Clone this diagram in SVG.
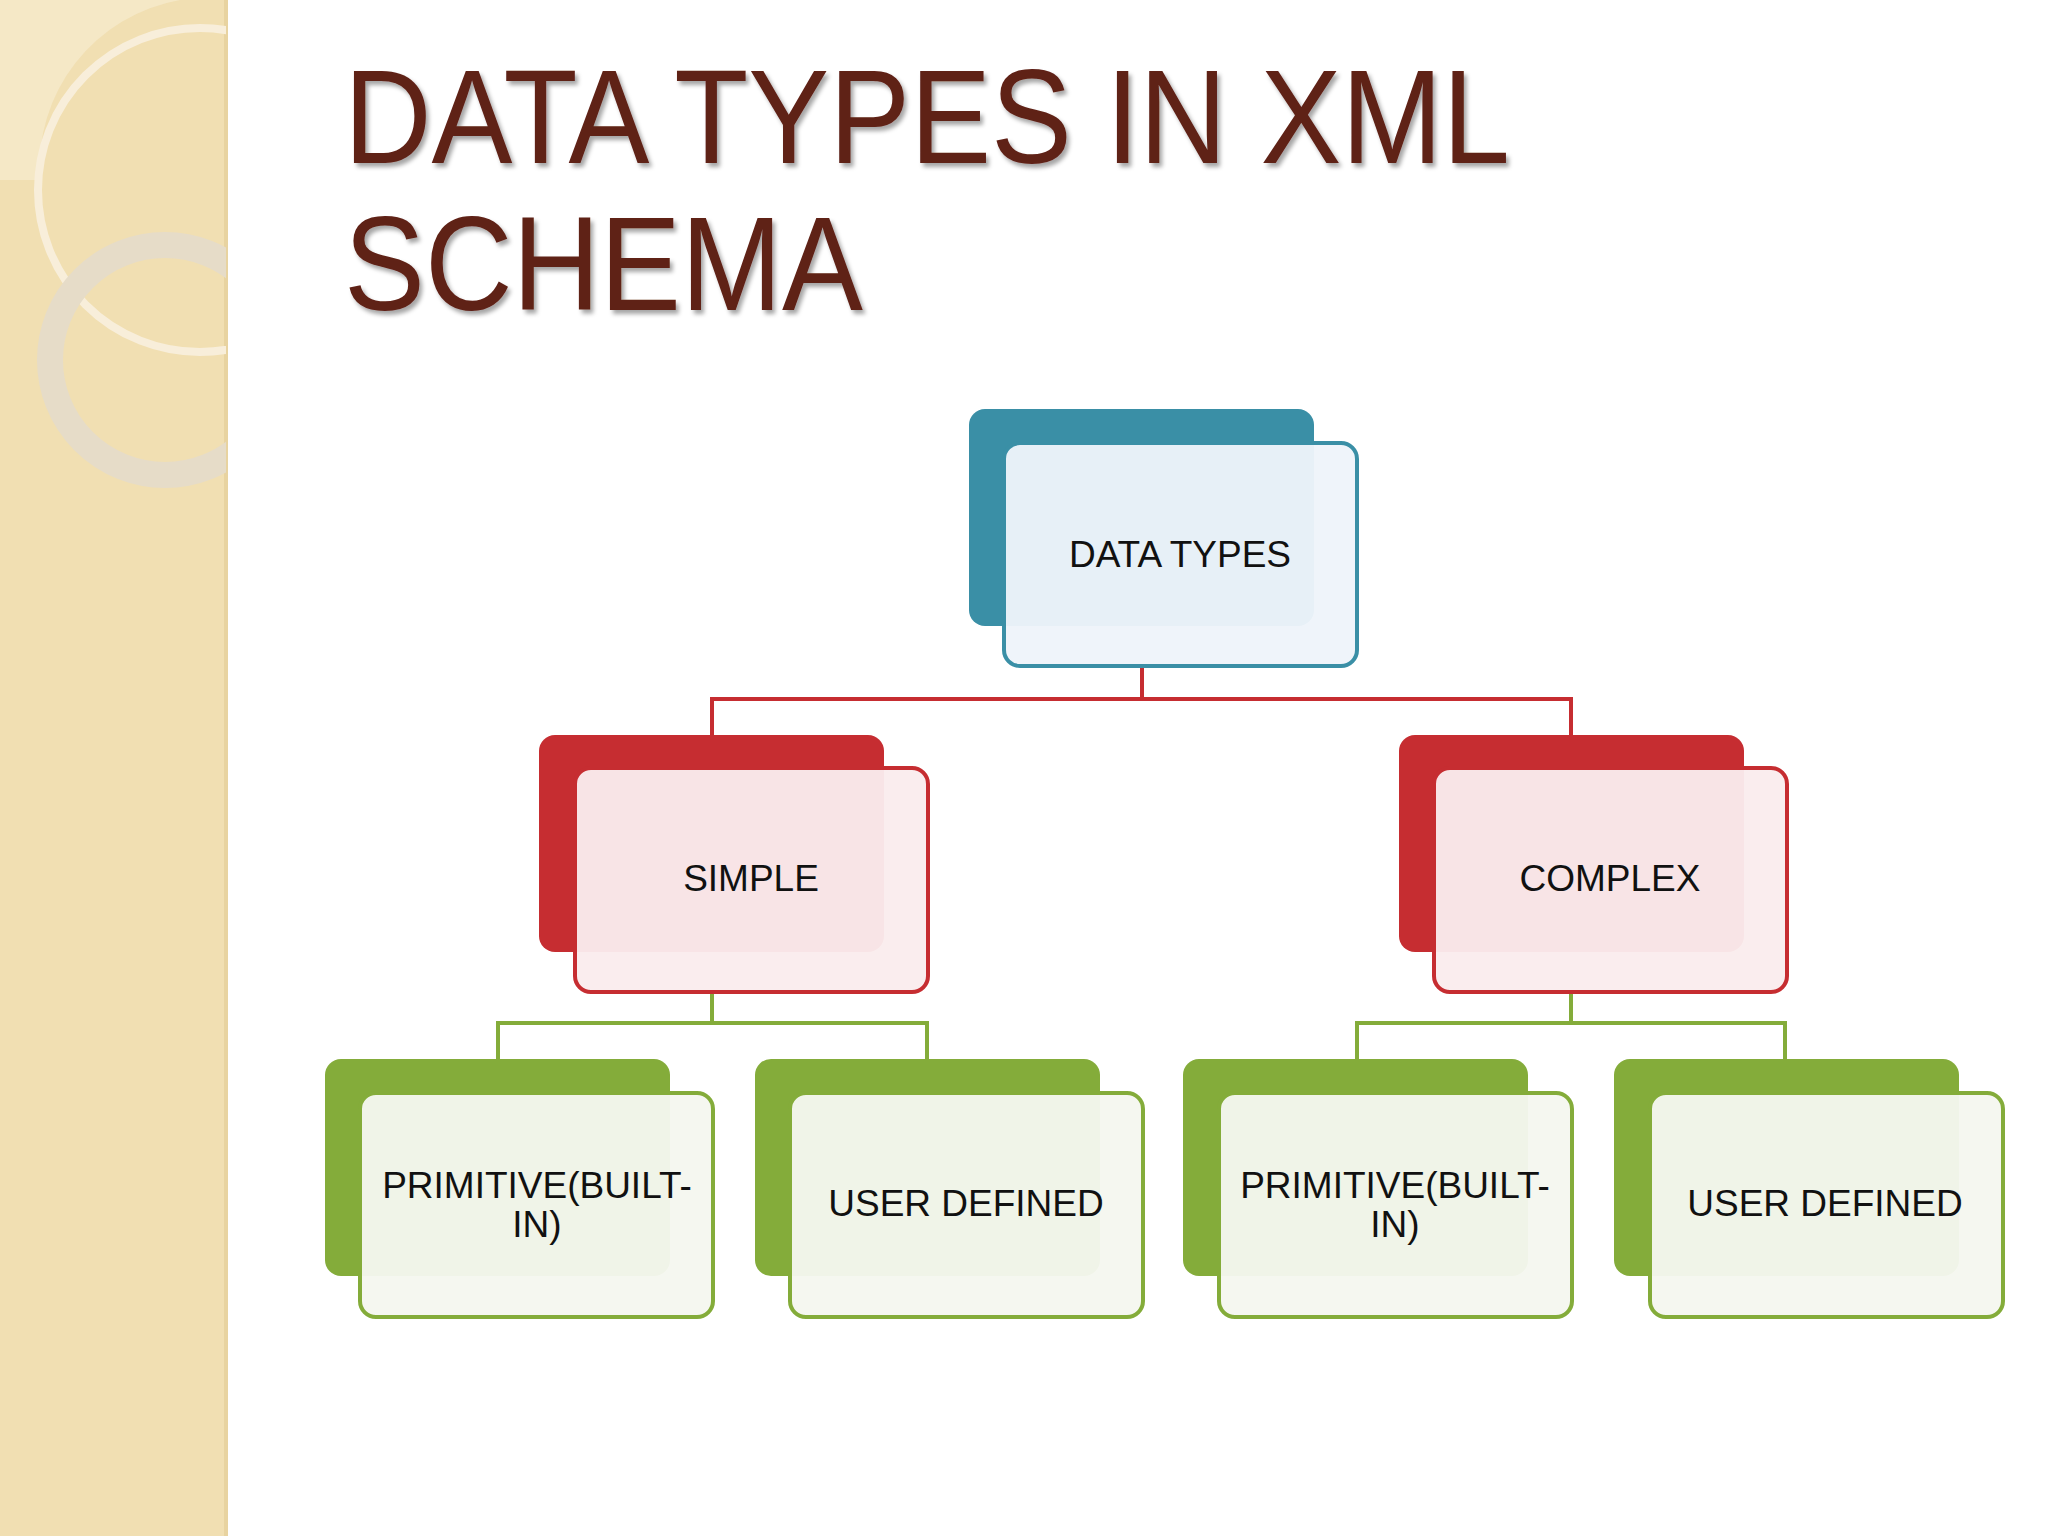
<svg xmlns="http://www.w3.org/2000/svg" width="2048" height="1536" viewBox="0 0 2048 1536">
<style>
.t{font-family:"Liberation Sans",Arial,sans-serif;font-size:37px;fill:#111;text-anchor:middle}
.h{font-family:"Liberation Sans",Arial,sans-serif;font-size:134px;fill:#5E2016}
</style>
<defs>
<filter id="sh"><feDropShadow dx="3" dy="4" stdDeviation="2" flood-color="#000" flood-opacity="0.35"/></filter>
<clipPath id="band"><rect width="226" height="1536"/></clipPath>
</defs>
<rect width="2048" height="1536" fill="#fff"/>
<rect width="226" height="1536" fill="#F1DFB2"/>
<rect x="224" width="4" height="1536" fill="#E8D3A0"/>
<g clip-path="url(#band)">
<path d="M0 0 H180 A170 170 0 0 0 40 180 H0 Z" fill="#F7EBCF" opacity="0.7"/>
<g fill="none">
<circle cx="200" cy="190" r="162" stroke="#F8EEDA" stroke-width="8"/>
<circle cx="165" cy="360" r="115" stroke-width="26" stroke="#E6DCC8"/>
</g>
</g>
<g filter="url(#sh)">
<text class="h" x="344" y="163" textLength="1166" lengthAdjust="spacingAndGlyphs">DATA TYPES IN XML</text>
<text class="h" x="344" y="310" textLength="519" lengthAdjust="spacingAndGlyphs">SCHEMA</text>
</g>
<g id="connectors" fill="none" stroke-width="4">
<path d="M1142 666 V699 M712 735 V699 H1571 V735" stroke="#C62D31"/>
<path d="M712 993 V1023 M498 1059 V1023 H927 V1059" stroke="#84AC3A"/>
<path d="M1571 993 V1023 M1357 1059 V1023 H1785 V1059" stroke="#84AC3A"/>
</g>
<g id="n-datatypes">
<rect x="969" y="409" width="345" height="217" rx="16" fill="#3A8FA6"/>
<rect x="1004" y="443" width="353" height="223" rx="16" fill="#EEF4FA" fill-opacity="0.96" stroke="#3A8FA6" stroke-width="4"/>
<text class="t" x="1180" y="567">DATA TYPES</text>
</g>
<g id="n-simple">
<rect x="539" y="735" width="345" height="217" rx="16" fill="#C62D31"/>
<rect x="575" y="768" width="353" height="224" rx="16" fill="#FAECED" fill-opacity="0.96" stroke="#C62D31" stroke-width="4"/>
<text class="t" x="751" y="891">SIMPLE</text>
</g>
<g id="n-complex">
<rect x="1399" y="735" width="345" height="217" rx="16" fill="#C62D31"/>
<rect x="1434" y="768" width="353" height="224" rx="16" fill="#FAECED" fill-opacity="0.96" stroke="#C62D31" stroke-width="4"/>
<text class="t" x="1610" y="891">COMPLEX</text>
</g>
<g id="n-prim1">
<rect x="325" y="1059" width="345" height="217" rx="16" fill="#84AC3A"/>
<rect x="360" y="1093" width="353" height="224" rx="16" fill="#F5F7EF" fill-opacity="0.96" stroke="#84AC3A" stroke-width="4"/>
<text class="t" x="537" y="1198">PRIMITIVE(BUILT-</text>
<text class="t" x="537" y="1237">IN)</text>
</g>
<g id="n-user1">
<rect x="755" y="1059" width="345" height="217" rx="16" fill="#84AC3A"/>
<rect x="790" y="1093" width="353" height="224" rx="16" fill="#F5F7EF" fill-opacity="0.96" stroke="#84AC3A" stroke-width="4"/>
<text class="t" x="966" y="1216">USER DEFINED</text>
</g>
<g id="n-prim2">
<rect x="1183" y="1059" width="345" height="217" rx="16" fill="#84AC3A"/>
<rect x="1219" y="1093" width="353" height="224" rx="16" fill="#F5F7EF" fill-opacity="0.96" stroke="#84AC3A" stroke-width="4"/>
<text class="t" x="1395" y="1198">PRIMITIVE(BUILT-</text>
<text class="t" x="1395" y="1237">IN)</text>
</g>
<g id="n-user2">
<rect x="1614" y="1059" width="345" height="217" rx="16" fill="#84AC3A"/>
<rect x="1650" y="1093" width="353" height="224" rx="16" fill="#F5F7EF" fill-opacity="0.96" stroke="#84AC3A" stroke-width="4"/>
<text class="t" x="1825" y="1216">USER DEFINED</text>
</g>
</svg>
